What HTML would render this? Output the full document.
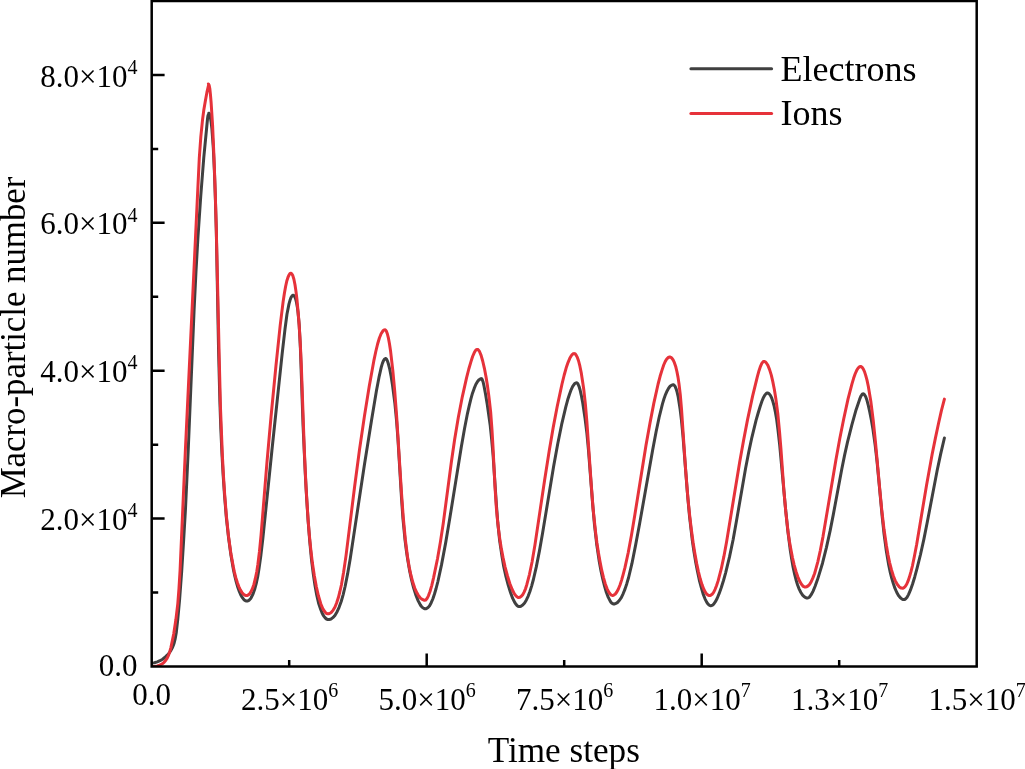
<!DOCTYPE html>
<html><head><meta charset="utf-8"><title>Macro-particle number vs Time steps</title>
<style>html,body{margin:0;padding:0;background:#fff;}svg{display:block;}</style>
</head><body>
<svg width="1025" height="769" viewBox="0 0 1025 769"><rect width="1025" height="769" fill="#fff"/><defs><clipPath id="pc"><rect x="151.7" y="1.0" width="825.0" height="665.5"/></clipPath></defs><g clip-path="url(#pc)" fill="none" stroke-width="3" stroke-linejoin="round" stroke-linecap="round"><path d="M152.0,663.0L154.4,662.7L157.3,661.9L160.0,660.7L162.6,659.2L165.0,657.3L167.2,655.2L169.2,653.0L171.1,650.1L172.3,647.9L173.4,645.2L174.3,642.5L175.1,639.2L176.3,632.4L177.8,619.0L179.6,599.6L181.7,571.2L183.6,540.9L185.5,508.7L188.2,450.8L194.1,310.0L196.0,271.3L198.0,236.5L200.8,195.5L203.8,157.4L207.5,119.0L207.9,116.0L208.3,114.8L208.7,114.4L208.8,113.2L209.2,113.4L209.6,114.2L210.3,117.1L211.1,121.9L211.9,128.9L213.3,147.9L214.5,173.5L215.4,199.5L216.3,230.5L218.6,351.7L219.9,402.1L220.8,428.5L221.9,452.7L223.1,474.4L224.5,494.9L226.3,517.1L228.5,537.2L230.9,554.9L233.5,570.0L234.9,576.5L236.3,582.2L237.8,587.3L239.3,591.5L240.8,595.0L242.4,597.7L243.9,599.7L245.5,600.8L246.5,601.1L247.4,601.1L248.4,600.7L249.3,600.1L250.2,599.1L251.1,597.8L252.9,594.3L254.6,589.6L256.2,583.7L257.7,576.7L259.1,568.1L260.9,555.2L262.9,538.1L271.9,450.5L282.2,353.3L285.0,329.1L287.0,314.0L289.0,303.9L290.0,300.3L291.0,297.6L292.0,295.9L292.9,295.2L293.4,295.2L293.9,295.5L294.8,296.8L295.7,299.1L296.5,302.5L297.3,306.9L298.0,312.0L299.2,325.1L300.4,348.2L303.1,426.2L305.3,474.0L306.7,499.2L308.2,521.9L309.8,541.8L311.5,559.6L313.2,573.3L314.9,585.1L316.7,594.9L318.6,603.2L320.8,609.8L321.9,612.5L323.0,614.8L324.2,616.6L325.3,618.0L326.5,619.0L327.8,619.5L329.0,619.6L330.2,619.3L331.3,618.8L332.5,617.9L333.7,616.8L334.9,615.4L337.1,611.7L339.1,607.3L341.2,601.5L343.1,594.8L345.1,586.5L347.6,573.9L350.3,558.3L364.5,464.2L371.5,420.5L376.4,391.1L379.2,376.3L381.4,366.7L382.4,363.4L383.4,360.9L384.4,359.3L385.3,358.6L385.8,358.6L386.4,359.0L387.4,360.9L388.5,364.3L389.8,369.5L391.1,376.2L392.4,384.4L394.9,403.6L396.5,420.0L397.9,438.1L401.5,498.0L403.0,519.1L405.1,540.6L406.4,550.7L407.7,559.5L409.5,570.1L411.5,579.6L413.6,587.9L415.8,594.9L418.2,600.9L420.4,605.0L421.5,606.5L422.7,607.6L423.8,608.4L424.9,608.8L425.8,608.8L426.5,608.6L428.0,607.6L429.6,605.7L431.2,602.7L432.8,599.0L434.4,594.2L436.1,588.5L437.9,581.5L441.5,564.9L445.7,542.6L450.0,517.1L461.3,446.9L464.5,428.8L467.4,413.8L469.2,405.9L470.9,398.9L472.5,393.2L474.2,388.4L475.8,384.5L477.4,381.7L479.0,379.7L480.6,378.8L481.6,378.6L482.2,379.4L483.1,382.0L484.1,386.4L485.6,394.5L487.3,404.7L490.2,425.4L491.7,439.9L493.1,455.4L496.4,504.9L497.8,523.0L499.7,541.1L502.1,557.1L503.8,566.9L505.9,576.3L508.2,585.1L510.5,592.5L512.7,598.4L514.9,602.7L516.0,604.3L517.0,605.5L518.0,606.2L519.0,606.5L519.9,606.5L520.9,606.2L522.7,605.0L524.6,602.9L526.4,599.9L528.2,596.1L529.9,591.5L531.6,586.1L533.4,579.5L536.3,566.9L539.5,550.6L542.6,533.1L553.6,466.4L557.7,444.1L561.6,424.7L565.8,406.9L567.7,399.8L569.5,394.2L571.2,389.6L572.7,386.4L574.3,384.1L575.0,383.4L575.8,383.0L576.4,382.8L576.9,382.9L577.4,383.2L577.9,383.9L579.0,386.3L580.1,390.0L581.3,395.3L582.6,402.1L585.1,418.7L586.9,433.3L588.5,450.3L592.7,504.6L594.5,524.9L596.7,544.2L599.3,561.7L601.0,570.9L602.8,579.2L604.6,586.4L606.4,592.5L608.3,597.4L610.1,600.9L610.9,602.2L611.8,603.1L612.7,603.7L613.5,604.0L614.4,604.0L615.3,603.7L617.3,602.6L619.3,600.5L621.3,597.6L623.1,593.8L625.0,589.1L626.8,583.7L628.6,577.5L631.9,563.7L635.6,545.1L639.6,523.7L652.7,449.8L656.1,431.7L659.1,417.5L662.4,404.1L664.0,398.8L665.5,394.6L667.1,390.9L668.6,388.2L670.1,386.3L671.7,385.1L673.2,384.7L674.1,385.1L675.1,386.4L676.1,388.8L677.1,392.1L678.2,396.9L680.1,409.0L681.5,420.5L682.9,435.1L687.3,491.7L689.5,516.2L692.3,540.4L693.9,551.3L695.6,561.6L697.4,571.0L699.3,580.0L701.3,587.7L703.1,593.9L705.0,598.8L706.8,602.4L707.8,603.8L708.7,604.7L709.6,605.4L710.3,605.7L711.2,605.7L712.0,605.4L712.8,604.9L713.7,604.1L715.4,601.7L717.2,598.3L719.2,593.4L721.3,587.5L723.5,580.5L725.7,572.6L729.5,556.9L733.2,539.2L736.5,520.8L745.6,468.2L748.8,451.8L751.9,437.3L756.1,420.2L758.3,412.5L760.3,406.0L762.0,401.0L763.5,397.4L764.9,394.9L766.3,393.4L766.9,393.1L767.6,393.0L768.3,393.2L769.0,393.6L770.4,395.4L771.7,398.0L772.9,401.6L774.2,406.4L775.3,411.8L776.5,418.4L778.0,430.0L779.7,445.1L785.2,505.1L787.7,529.8L790.4,551.1L791.8,559.8L793.1,567.3L794.6,574.1L796.0,579.7L797.6,585.0L799.2,589.1L800.9,592.5L802.6,595.1L804.4,596.8L805.3,597.4L806.3,597.9L807.9,597.9L808.7,597.6L809.5,597.0L811.2,594.7L813.1,591.1L815.2,586.0L817.5,579.6L819.9,571.9L822.5,563.2L826.4,547.6L830.1,530.9L833.3,514.6L841.8,468.9L844.6,455.1L847.5,442.2L851.8,425.2L856.1,409.7L859.6,399.4L860.8,396.4L862.0,394.5L862.6,394.0L863.1,393.8L863.7,393.9L864.3,394.4L865.6,396.6L866.9,400.1L868.3,405.4L869.8,412.1L871.4,420.2L872.9,429.0L875.1,444.6L877.1,462.0L882.2,516.6L884.1,534.3L886.3,550.8L888.7,565.0L890.2,572.1L891.7,578.1L893.4,583.8L895.0,588.4L896.8,592.5L898.5,595.5L900.4,597.8L902.1,599.1L903.1,599.5L904.0,599.6L904.7,599.5L905.3,599.1L906.9,597.5L908.5,594.6L910.4,590.2L912.5,584.2L914.8,576.7L917.1,568.2L920.5,554.5L923.9,539.1L927.3,522.0L937.2,470.3L940.8,453.4L944.4,438.0" stroke="#404040"/><path d="M152.0,666.4L154.9,666.4L157.4,666.0L159.7,665.2L162.0,664.0L164.1,662.3L165.8,660.3L167.2,658.1L168.6,655.1L169.7,652.0L170.9,647.6L173.7,634.1L175.9,619.6L177.8,603.6L179.0,588.2L180.1,569.9L185.4,449.7L199.3,157.9L200.8,137.1L202.6,119.2L203.8,110.1L205.3,101.2L206.9,92.4L208.7,84.7L208.4,84.0L208.7,84.3L209.1,85.1L209.8,88.5L210.4,94.2L211.1,102.3L212.6,125.6L214.0,157.3L215.2,191.0L216.3,229.1L219.3,360.8L220.5,408.3L222.4,456.1L223.5,476.4L224.7,494.9L226.4,516.2L228.4,535.4L230.7,552.3L233.2,566.2L234.4,572.1L235.8,577.6L237.3,582.4L238.8,586.5L240.3,589.8L241.9,592.4L243.5,594.2L245.1,595.3L246.1,595.6L247.0,595.6L247.9,595.2L248.8,594.6L249.8,593.6L250.6,592.3L252.3,588.9L253.9,584.4L255.3,578.7L256.7,572.0L257.9,564.2L259.5,551.2L261.1,534.6L267.0,461.8L271.0,417.0L275.9,366.4L280.2,325.3L283.1,301.9L284.4,293.3L285.6,286.5L286.8,281.0L288.1,277.0L289.3,274.4L290.0,273.6L290.6,273.2L291.2,273.2L291.7,273.7L292.8,275.6L293.9,279.3L295.0,284.7L296.0,291.6L297.0,300.0L298.9,321.2L300.2,341.5L301.3,365.2L304.4,452.0L306.0,486.5L308.1,519.8L309.3,534.6L310.7,548.6L312.4,563.1L314.3,575.6L316.3,586.5L318.4,595.8L320.7,603.4L321.8,606.4L322.9,608.9L324.1,610.8L325.3,612.3L326.4,613.3L327.6,613.8L328.5,613.8L329.5,613.5L330.4,613.0L331.4,612.3L333.2,610.1L335.0,607.0L336.6,603.0L338.3,597.8L339.8,592.0L341.4,585.0L343.6,572.3L346.0,555.9L354.6,486.8L359.5,449.8L364.4,416.4L369.2,386.4L373.8,360.9L375.8,351.5L377.6,344.0L379.4,338.0L381.1,333.8L382.8,331.1L383.5,330.3L384.3,329.9L385.0,329.8L385.4,329.9L386.4,331.2L387.4,334.0L388.5,338.4L389.5,344.0L390.6,351.3L392.8,370.3L394.7,390.8L396.6,415.5L401.5,493.0L403.2,516.6L405.3,539.2L407.5,556.8L409.1,566.5L410.8,574.7L412.8,582.3L414.8,588.3L417.0,593.1L418.2,595.1L419.4,596.8L420.5,598.1L421.8,599.1L423.1,599.8L424.4,600.2L425.2,600.2L425.8,600.0L427.0,598.6L428.4,595.8L430.0,591.5L431.8,585.3L433.6,577.6L437.5,558.7L440.4,542.1L443.2,523.7L451.3,462.5L454.6,439.7L458.3,417.5L462.3,396.8L466.6,377.6L468.8,369.0L470.9,361.9L472.6,356.5L474.2,352.8L475.5,350.5L476.1,349.9L476.8,349.5L477.5,349.4L478.1,349.7L478.8,350.5L479.6,351.7L481.1,355.4L482.7,361.0L484.4,368.3L486.0,376.8L487.5,386.1L488.9,396.5L490.7,412.5L492.0,430.0L493.0,447.0L495.0,486.9L496.4,508.1L497.4,519.0L498.5,528.9L499.7,538.3L501.1,547.3L503.0,557.4L505.1,567.1L507.5,576.0L509.8,583.5L512.2,589.5L514.4,593.9L515.5,595.3L516.5,596.4L517.5,597.2L518.6,597.5L519.9,597.3L521.3,596.3L522.7,594.7L524.1,592.1L525.5,588.8L526.8,584.7L529.5,574.3L532.1,561.8L534.9,545.2L544.6,480.2L549.2,451.0L553.2,427.5L557.2,406.5L562.0,384.0L564.2,375.0L566.2,367.8L568.1,362.3L569.9,358.1L571.6,355.2L572.4,354.4L573.2,353.8L573.9,353.6L574.6,353.7L575.3,354.0L575.9,354.7L577.2,357.1L578.6,361.0L579.9,366.2L581.2,372.6L582.4,380.3L583.7,389.0L585.4,404.3L586.9,422.2L591.3,485.3L593.1,508.8L595.6,532.3L596.9,542.8L598.4,552.6L600.0,561.6L601.7,570.2L603.5,577.6L605.3,583.9L607.1,588.8L608.8,592.2L609.8,593.6L610.6,594.5L611.4,595.1L612.3,595.4L613.1,595.4L613.8,595.1L615.3,594.0L616.8,592.0L618.4,589.0L620.0,585.0L621.6,580.1L623.2,574.4L625.0,567.4L628.2,552.7L631.5,534.9L634.9,514.5L646.0,445.3L650.0,422.9L653.8,403.4L658.1,384.0L660.1,376.3L662.0,370.1L663.7,365.0L665.3,361.4L666.9,358.8L668.4,357.4L669.2,357.0L669.9,357.0L670.7,357.3L671.5,357.8L673.0,359.7L674.4,362.7L675.8,366.8L676.9,371.5L678.0,377.1L679.0,383.9L680.3,395.0L681.5,408.8L685.6,469.4L688.0,499.3L689.6,514.9L691.3,529.2L693.1,542.5L695.0,554.2L696.7,563.6L698.4,571.5L700.2,578.8L702.0,584.6L703.8,589.2L705.6,592.6L706.5,593.8L707.4,594.7L708.3,595.3L709.3,595.6L709.9,595.6L710.7,595.3L712.1,594.3L713.6,592.3L715.1,589.3L716.5,585.7L718.1,580.9L721.3,568.7L723.9,556.4L726.6,541.7L739.7,462.0L743.6,440.3L747.5,419.9L752.6,396.1L757.3,376.9L759.0,370.7L760.5,366.3L761.8,363.4L763.0,361.8L763.7,361.4L764.5,361.5L765.3,361.9L766.2,362.8L767.9,365.4L769.6,369.6L771.3,375.1L772.8,381.6L774.4,389.7L775.8,398.4L777.8,413.7L779.5,431.4L780.9,448.3L783.9,490.4L785.8,512.0L788.1,532.2L789.5,541.8L791.0,550.1L792.5,557.8L794.2,565.1L796.0,571.5L797.8,576.8L799.6,581.1L801.3,584.1L803.1,586.2L803.9,586.7L804.8,587.0L805.7,587.1L806.4,586.9L808.1,585.9L809.7,584.2L811.3,581.5L812.9,577.9L814.6,573.5L816.1,568.2L817.8,561.8L820.3,550.6L823.0,536.6L835.9,459.9L839.8,438.4L843.7,419.0L848.0,399.1L851.9,384.1L853.6,378.3L855.1,374.0L856.6,370.6L858.0,368.2L859.3,366.9L860.0,366.6L860.7,366.5L861.3,366.7L862.0,367.2L863.2,368.9L864.5,371.6L865.7,375.4L867.0,380.1L868.3,386.2L870.8,401.2L873.2,420.2L875.5,442.5L879.8,489.7L881.7,509.3L884.0,529.3L886.4,545.4L888.0,554.7L889.6,562.6L891.5,569.9L893.3,575.8L895.2,580.6L897.2,584.3L899.2,586.8L900.2,587.6L901.2,588.1L902.7,588.3L904.0,587.7L905.4,586.3L906.8,584.0L908.1,580.9L909.5,576.8L910.9,571.9L912.4,566.0L914.4,556.3L916.7,544.2L926.5,485.4L932.1,454.4L935.3,438.6L938.4,424.0L941.4,410.7L944.4,399.1" stroke="#e6323a"/></g><path d="M151.7,592.56H158.2M151.7,518.61H164.6M151.7,444.67H158.2M151.7,370.72H164.6M151.7,296.78H158.2M151.7,222.83H164.6M151.7,148.89H158.2M151.7,74.94H164.6M289.20,666.5V660.0M426.70,666.5V653.6M564.20,666.5V660.0M701.70,666.5V653.6M839.20,666.5V660.0" stroke="#000" stroke-width="2.5" fill="none"/><rect x="151.7" y="1.0" width="825.0" height="665.5" fill="none" stroke="#000" stroke-width="2.5"/><g font-family="'Liberation Serif', 'Times New Roman', serif" font-size="31" fill="#000"><text x="137.5" y="676.1" text-anchor="end">0.0</text><text x="137.5" y="530.2" text-anchor="end">2.0×10<tspan font-size="20" dy="-12.9">4</tspan></text><text x="137.5" y="382.3" text-anchor="end">4.0×10<tspan font-size="20" dy="-12.9">4</tspan></text><text x="137.5" y="234.4" text-anchor="end">6.0×10<tspan font-size="20" dy="-12.9">4</tspan></text><text x="137.5" y="86.5" text-anchor="end">8.0×10<tspan font-size="20" dy="-12.9">4</tspan></text><text x="151.7" y="705.4" text-anchor="middle">0.0</text><text x="289.7" y="709.6" text-anchor="middle">2.5×10<tspan font-size="20" dy="-12.9">6</tspan></text><text x="427.2" y="709.6" text-anchor="middle">5.0×10<tspan font-size="20" dy="-12.9">6</tspan></text><text x="564.7" y="709.6" text-anchor="middle">7.5×10<tspan font-size="20" dy="-12.9">6</tspan></text><text x="702.2" y="709.6" text-anchor="middle">1.0×10<tspan font-size="20" dy="-12.9">7</tspan></text><text x="839.7" y="709.6" text-anchor="middle">1.3×10<tspan font-size="20" dy="-12.9">7</tspan></text><text x="977.2" y="709.6" text-anchor="middle">1.5×10<tspan font-size="20" dy="-12.9">7</tspan></text></g><text font-family="'Liberation Serif', 'Times New Roman', serif" font-size="35.2" x="563.8" y="761.6" text-anchor="middle">Time steps</text><text font-family="'Liberation Serif', 'Times New Roman', serif" font-size="34.8" transform="translate(24.7,337.5) rotate(-90)" text-anchor="middle">Macro-particle number</text><path d="M690.9,68.7H771.6" stroke="#404040" stroke-width="3" stroke-linecap="round"/><path d="M690.9,113.4H771.6" stroke="#e6323a" stroke-width="3" stroke-linecap="round"/><text font-family="'Liberation Serif', 'Times New Roman', serif" font-size="36" x="780.5" y="80.9">Electrons</text><text font-family="'Liberation Serif', 'Times New Roman', serif" font-size="36" x="780.5" y="125.4">Ions</text></svg>
</body></html>
